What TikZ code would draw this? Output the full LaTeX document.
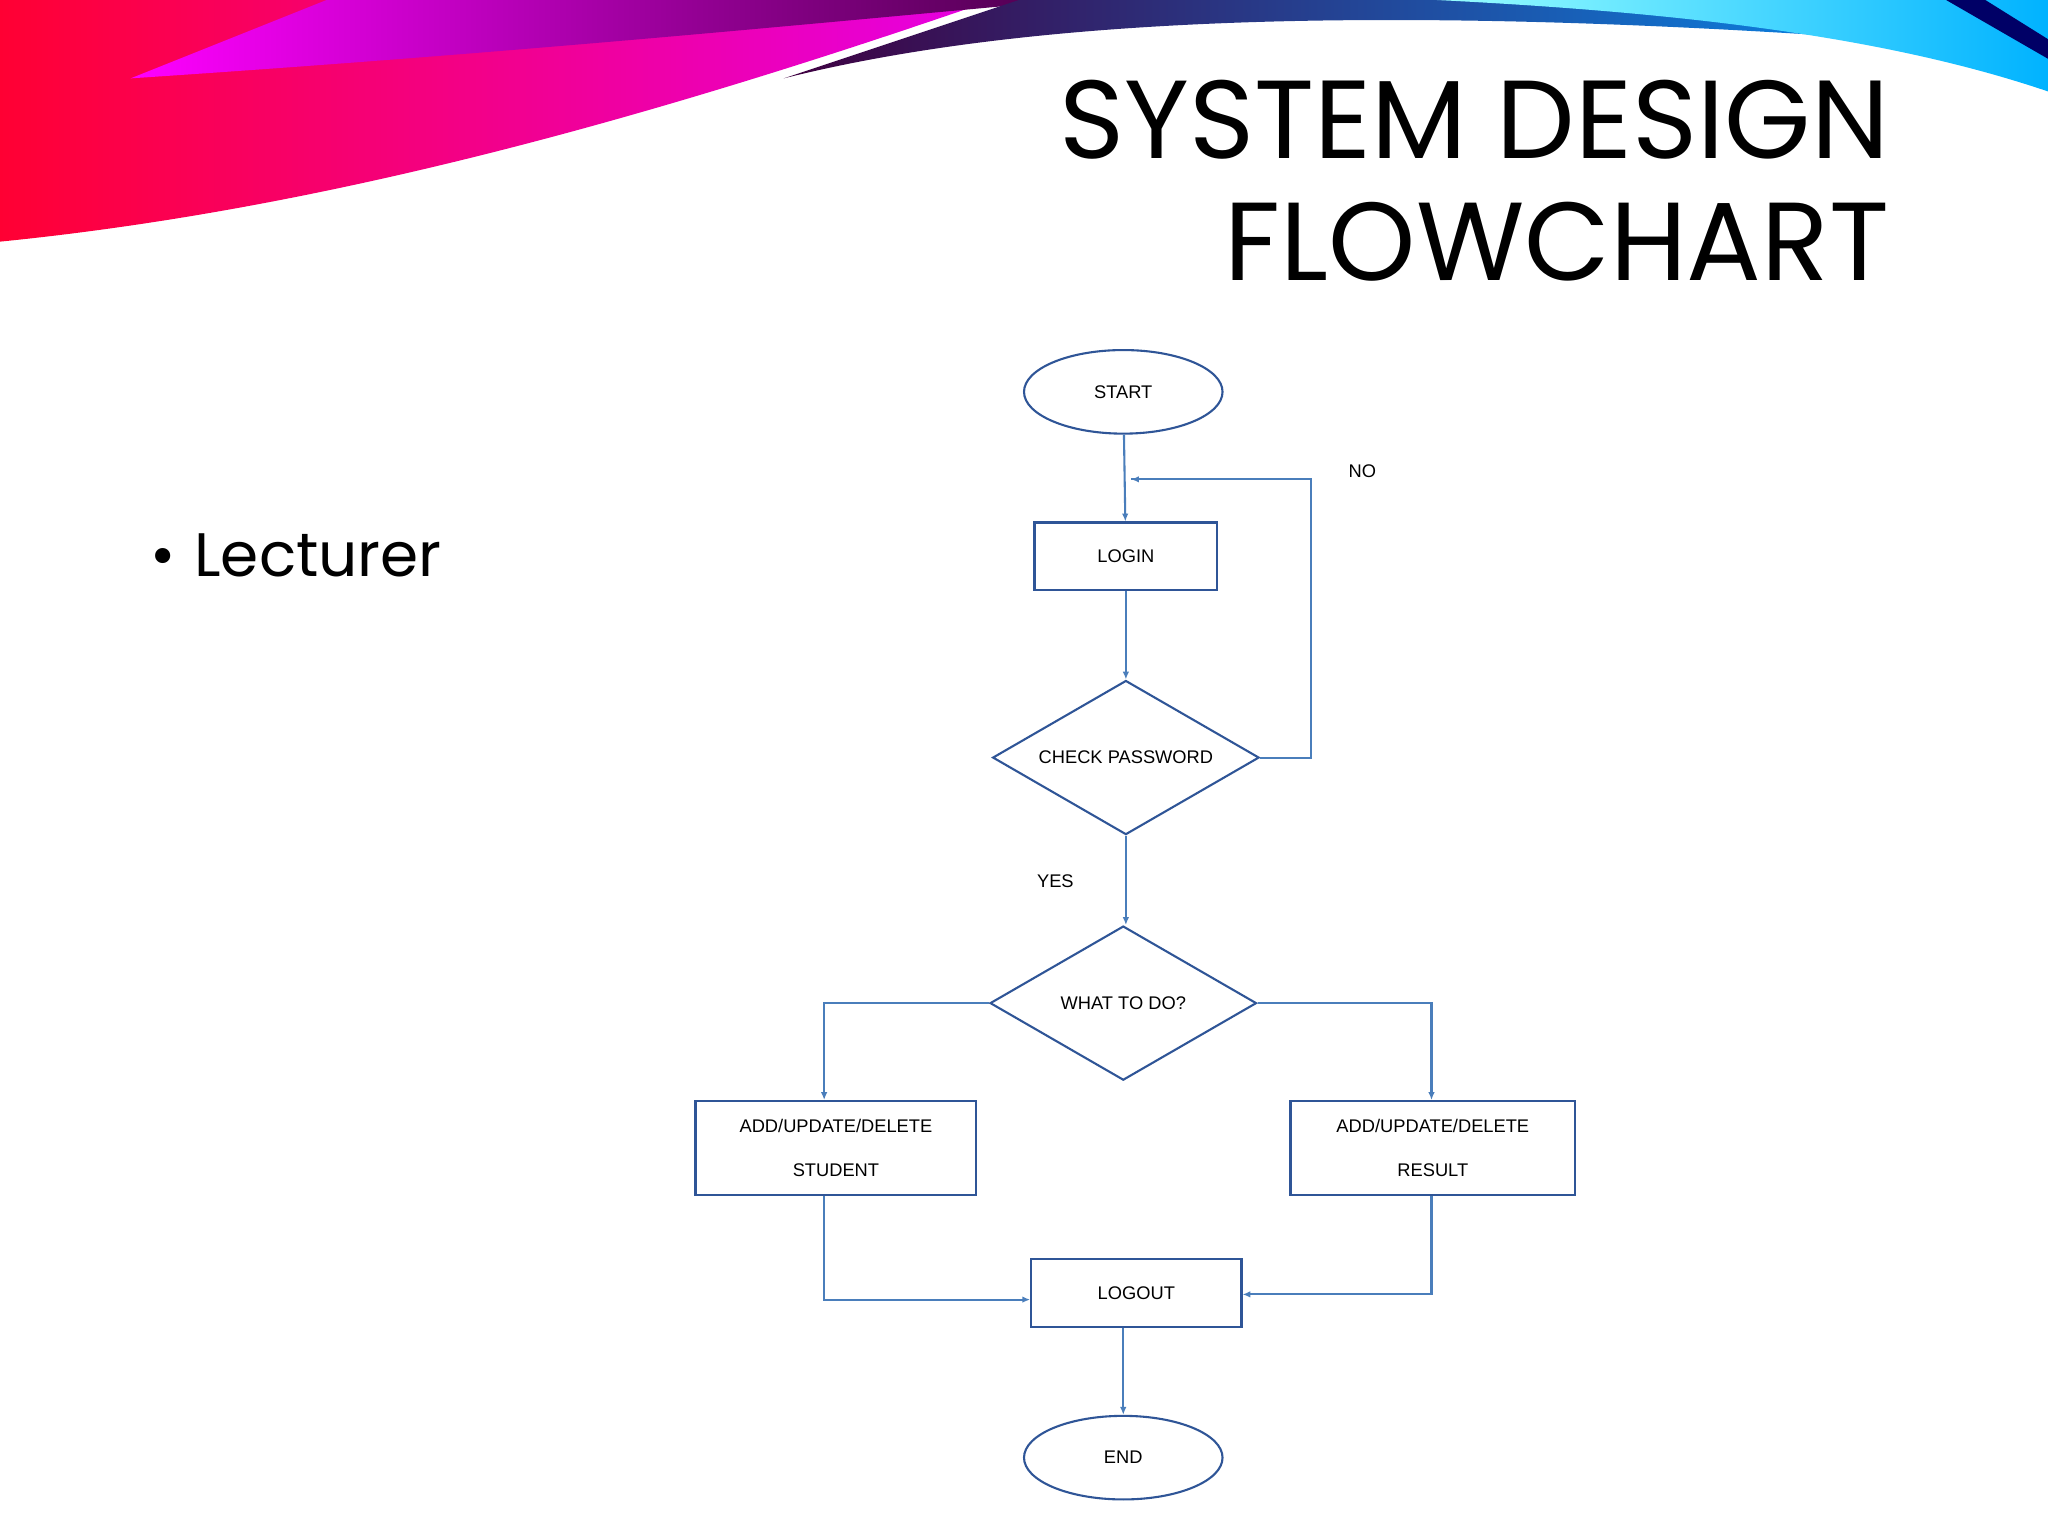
\documentclass[tikz,border=0pt]{standalone}
\usepackage{fontspec}
\setmainfont{Poppins}
\newfontfamily\lab{Liberation Sans}
\usetikzlibrary{shapes.geometric,arrows.meta}
\definecolor{ln}{HTML}{4A7EBB}
\definecolor{bd}{HTML}{2F5597}
\begin{document}
\begin{tikzpicture}[x=1pt,y=-1pt,
  box/.style={draw=bd,line width=1.6pt,rectangle,inner sep=0pt,font=\lab\fontsize{14}{34}\selectfont,align=center},
  oval/.style={draw=bd,line width=1.6pt,ellipse,minimum width=152pt,minimum height=64pt,inner sep=0pt,font=\lab\fontsize{14}{16}\selectfont},
  dia/.style={draw=bd,line width=1.6pt,diamond,minimum width=204pt,minimum height=118pt,inner sep=0pt,font=\lab\fontsize{14}{16}\selectfont,label={[font=\lab\fontsize{14}{16}\selectfont]center:#1}},
  con/.style={draw=ln,line width=1.6pt,-{Latex[length=6pt,width=5pt]}},
  lbl/.style={font=\lab\fontsize{14}{16}\selectfont}]
\useasboundingbox (0,0) rectangle (1568,1176);
\fill[white] (0,0) rectangle (1568,1176);
% swoosh
\shade[left color=red!80!magenta,right color=magenta!80!violet] (0,0) -- (0,185) .. controls (250,160) and (500,90) .. (760,0) -- cycle;
\shade[left color=magenta,right color=violet!60!black] (250,0) -- (100,60) .. controls (400,40) and (600,20) .. (820,0) -- cycle;
\shade[left color=violet!50!black,right color=cyan!60!blue] (600,60) .. controls (800,10) and (1100,0) .. (1568,40) -- (1568,0) -- (780,0) .. controls (720,20) and (660,40) .. (600,60);
\shade[left color=cyan!40,right color=cyan!70!blue] (1100,0) .. controls (1300,10) and (1450,30) .. (1568,70) -- (1568,0) -- cycle;
\fill[blue!40!black] (1490,0) -- (1568,45) -- (1568,30) -- (1520,0) -- cycle;
% title
\node[anchor=east,font=\fontsize{85}{90}\selectfont] (t1) at (1450,92) {SYSTEM DESIGN};
\node[anchor=east,font=\fontsize{85}{90}\selectfont] (t2) at (1450,185) {FLOWCHART};
\node[anchor=west,font=\fontsize{47}{50}\selectfont] (lec) at (112,425) {•\hspace{14pt}Lecturer};
% nodes
\node[oval] (start) at (860,300) {START};
\node[box,minimum width=140pt,minimum height=52pt] (login) at (862,426) {LOGIN};
\node[dia=CHECK PASSWORD] (check) at (862,580) {};
\node[dia=WHAT TO DO?] (what) at (860,768) {};
\node[box,minimum width=215pt,minimum height=72pt] (stud) at (640,879) {ADD/UPDATE/DELETE\\STUDENT};
\node[box,minimum width=218pt,minimum height=72pt] (res) at (1097,879) {ADD/UPDATE/DELETE\\RESULT};
\node[box,minimum width=161pt,minimum height=52pt] (logout) at (870,990) {LOGOUT};
\node[oval] (end) at (860,1116) {END};
\coordinate (nr) at (1004,580);
\coordinate (nt) at (1004,367);
\coordinate (na) at (866,367);
\coordinate (wl) at (631,768);
\coordinate (wr) at (1096,768);
\coordinate (sl) at (631,995);
\coordinate (rl) at (1096,991);
% connectors
\draw[con] (start) -- (login);
\draw[con] (login) -- (check);
\draw[draw=ln,line width=1.6pt] (check.east) -- (nr) -- (nt) -- (na);
\draw[con] (nt) -- (na);
\draw[con] (check.south) -- (check.south |- what.north);
\draw[con] (what.west) -- (wl) -- (wl |- stud.north);
\draw[con] (what.east) -- (wr) -- (wr |- res.north);
\draw[con] (wl |- stud.south) -- (sl) -- (logout.west |- sl);
\draw[con] (wr |- res.south) -- (rl) -- (logout.east |- rl);
\draw[con] (logout.south -| end.north) -- (end);
\node[lbl] (no) at (1043,361) {NO};
\node[lbl] (yes) at (808,675) {YES};
\end{tikzpicture}
\end{document}
